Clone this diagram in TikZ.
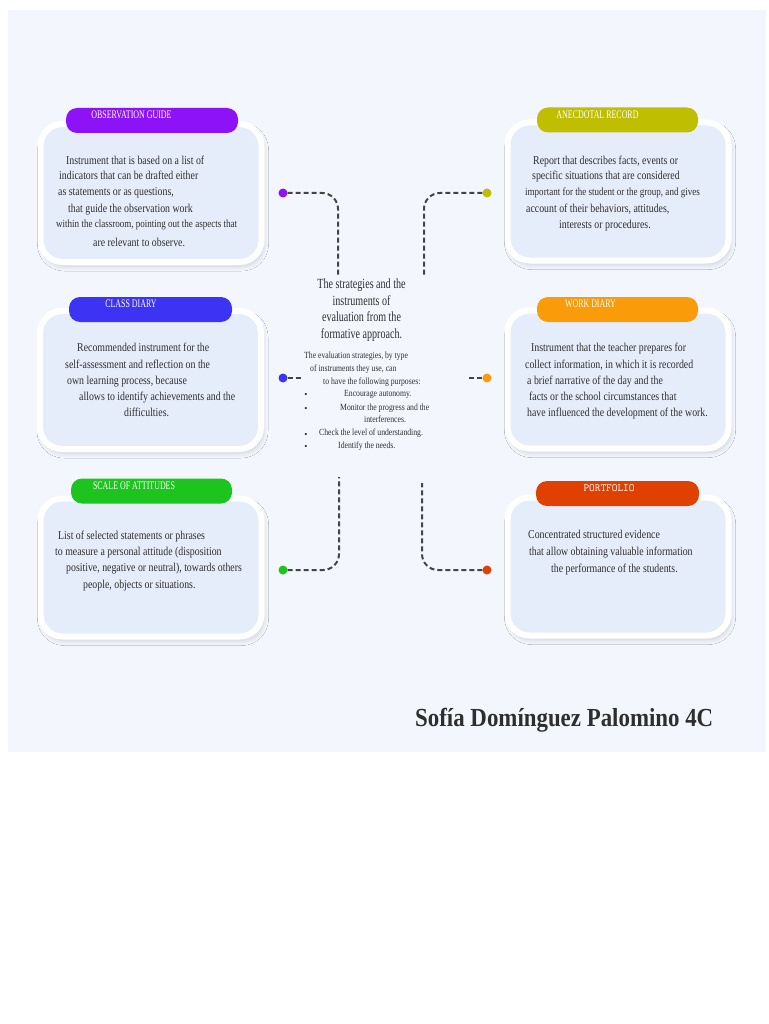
\documentclass[tikz,border=0pt]{standalone}
\usepackage{fontspec}
\setmainfont{Liberation Serif}
\newfontfamily\cardfont[FakeStretch=0.82]{Liberation Serif}
\newfontfamily\headfont[FakeStretch=0.69]{Liberation Serif}
\newfontfamily\titlefont[FakeStretch=0.72]{Liberation Serif}
\newfontfamily\namefont[FakeStretch=0.88]{Liberation Serif}
\usetikzlibrary{shadows.blur}
\definecolor{bgblue}{HTML}{F3F7FD}
\definecolor{cardblue}{HTML}{E6EDFA}
\definecolor{textgray}{HTML}{2E2E2E}
\definecolor{linkgray}{HTML}{444444}
\definecolor{obscol}{HTML}{8E12F8}
\definecolor{aneccol}{HTML}{BFBE00}
\definecolor{clscol}{HTML}{3D33F5}
\definecolor{workcol}{HTML}{FA9B0A}
\definecolor{scalecol}{HTML}{1DC41D}
\definecolor{portcol}{HTML}{E04000}
\begin{document}
\begin{tikzpicture}[x=1pt, y=-1pt,
    card/.style={fill=cardblue, draw=white, line width=6pt, rounded corners=22pt,
        minimum width=221pt, minimum height=138pt,
        blur shadow={shadow xshift=2pt, shadow yshift=-4pt, shadow blur radius=5pt, shadow blur steps=24, shadow opacity=16}},
    pill/.style={rounded corners=11pt, minimum height=25pt, inner sep=0pt},
    headtext/.style={text=white, font=\headfont\fontsize{11.5}{12}\selectfont, inner sep=0pt},
    bodytext/.style={text=textgray, font=\cardfont\fontsize{12}{14}\selectfont, inner sep=0pt, anchor=base west},
    smalltext/.style={text=textgray, font=\cardfont\fontsize{11}{13}\selectfont, inner sep=0pt, anchor=base west},
    tinytext/.style={text=textgray, font=\cardfont\fontsize{9.4}{11}\selectfont, inner sep=0pt, anchor=base west},
    dot/.style={circle, inner sep=0pt, minimum size=9pt},
    link/.style={draw=linkgray, line width=2pt, dash pattern=on 5pt off 3pt, rounded corners=16pt}]
    \useasboundingbox (0,0) rectangle (768,1024);
    \fill[bgblue] (8,10) rectangle (766,752);
    % cards
    \node[card] (obscard) at (151,193) {};
    \node[card] (aneccard) at (618,191.5) {};
    \node[card] (clscard) at (150.5,380) {};
    \node[card] (workcard) at (618,379.5) {};
    \node[card] (scalecard) at (151,567.5) {};
    \node[card] (portcard) at (618,566.5) {};
    % headers
    \node[pill, fill=obscol, minimum width=172pt] (obshead) at (152,120.5) {};
    \node[pill, fill=aneccol, minimum width=161pt] (anechead) at (617.5,120) {};
    \node[pill, fill=clscol, minimum width=163pt] (clshead) at (150.5,309.5) {};
    \node[pill, fill=workcol, minimum width=161pt] (workhead) at (617.5,309.5) {};
    \node[pill, fill=scalecol, minimum width=161pt] (scalehead) at (151.5,491) {};
    \node[pill, fill=portcol, minimum width=163pt] (porthead) at (617.5,493.5) {};
    \node[headtext] (obstitle) at (131.5,115) {OBSERVATION GUIDE};
    \node[headtext] (anectitle) at (597.5,115) {ANECDOTAL RECORD};
    \node[headtext] (clstitle) at (131,304) {CLASS DIARY};
    \node[headtext] (worktitle) at (590.5,304) {WORK DIARY};
    \node[headtext] (scaletitle) at (134,486) {SCALE OF ATTITUDES};
    \node[headtext, font=\ttfamily\fontsize{11}{12}\selectfont] (porttitle) at (609,488) {PORTFOLIO};
    % card texts
    \foreach \x/\y/\s/\t [count=\i] in {66/161/bodytext/{Instrument that is based on a list of},
        59/176/bodytext/{indicators that can be drafted either},
        58/192/bodytext/{as statements or as questions,},
        68/209/bodytext/{that guide the observation work},
        56/224/smalltext/{within the classroom, pointing out the aspects that},
        93/242/bodytext/{are relevant to observe.}}
        \node[\s] (obs\i) at (\x,\y+4) {\t};
    \foreach \x/\y/\s/\t [count=\i] in {533/161/bodytext/{Report that describes facts, events or},
        532/176/bodytext/{specific situations that are considered},
        525/192/smalltext/{important for the student or the group, and gives},
        526/209/bodytext/{account of their behaviors, attitudes,},
        559/225/bodytext/{interests or procedures.}}
        \node[\s] (anec\i) at (\x,\y+4) {\t};
    \foreach \x/\y/\s/\t [count=\i] in {77/347/bodytext/{Recommended instrument for the},
        65/364/bodytext/{self-assessment and reflection on the},
        67/380/bodytext/{own learning process, because},
        79/396/bodytext/{allows to identify achievements and the},
        124/412/bodytext/{difficulties.}}
        \node[\s] (cls\i) at (\x,\y+4) {\t};
    \foreach \x/\y/\s/\t [count=\i] in {531/347/bodytext/{Instrument that the teacher prepares for},
        525/364/bodytext/{collect information, in which it is recorded},
        527/380/bodytext/{a brief narrative of the day and the},
        529/396/bodytext/{facts or the school circumstances that},
        527/412/bodytext/{have influenced the development of the work.}}
        \node[\s] (work\i) at (\x,\y+4) {\t};
    \foreach \x/\y/\s/\t [count=\i] in {58/535/bodytext/{List of selected statements or phrases},
        55/551/bodytext/{to measure a personal attitude (disposition},
        66/567/bodytext/{positive, negative or neutral), towards others},
        83/584/bodytext/{people, objects or situations.}}
        \node[\s] (scale\i) at (\x,\y+4) {\t};
    \foreach \x/\y/\s/\t [count=\i] in {528/534/bodytext/{Concentrated structured evidence},
        529/551/bodytext/{that allow obtaining valuable information},
        551/568/bodytext/{the performance of the students.}}
        \node[\s] (port\i) at (\x,\y+4) {\t};
    % centre
    \node[text=textgray, font=\titlefont\fontsize{14}{16.7}\selectfont, align=center, inner sep=0pt] (topic) at (361.5,310)
        {The strategies and the\\instruments of\\evaluation from the\\formative approach.};
    \foreach \x/\y/\t [count=\i] in {304/355/{The evaluation strategies, by type},
        310/368/{of instruments they use, can},
        323/381/{to have the following purposes:},
        344/393/{Encourage autonomy.},
        340/407/{Monitor the progress and the},
        364/419/{interferences.},
        319/432/{Check the level of understanding.},
        338/445/{Identify the needs.}}
        \node[tinytext] (aim\i) at (\x,\y+3) {\t};
    \foreach \y [count=\i] in {395,409,435,447}
        \node[text=textgray, font=\fontsize{9}{10}\selectfont, inner sep=0pt] (bullet\i) at (306,\y) {\textbullet};
    % connectors
    \coordinate (endobs) at (338,277);
    \coordinate (endanec) at (424,277);
    \coordinate (endcls) at (303,378);
    \coordinate (endwork) at (468,378);
    \coordinate (endscale) at (339,477);
    \coordinate (endport) at (422,483);
    \node[dot, fill=obscol] (dotobs) at (283,193) {};
    \node[dot, fill=aneccol] (dotanec) at (487,193) {};
    \node[dot, fill=clscol] (dotcls) at (283,378) {};
    \node[dot, fill=workcol] (dotwork) at (487,378) {};
    \node[dot, fill=scalecol] (dotscale) at (283,570) {};
    \node[dot, fill=portcol] (dotport) at (487,570) {};
    \draw[link] (dotobs) -| (endobs);
    \draw[link] (dotanec) -| (endanec);
    \draw[link] (dotcls) -- (endcls);
    \draw[link] (dotwork) -- (endwork);
    \draw[link] (dotscale) -| (endscale);
    \draw[link] (dotport) -| (endport);
    % author
    \node[text=textgray, font=\namefont\bfseries\fontsize{26}{30}\selectfont, inner sep=0pt, anchor=base west] (author) at (415,726)
        {Sofía Domínguez Palomino 4C};
\end{tikzpicture}
\end{document}
